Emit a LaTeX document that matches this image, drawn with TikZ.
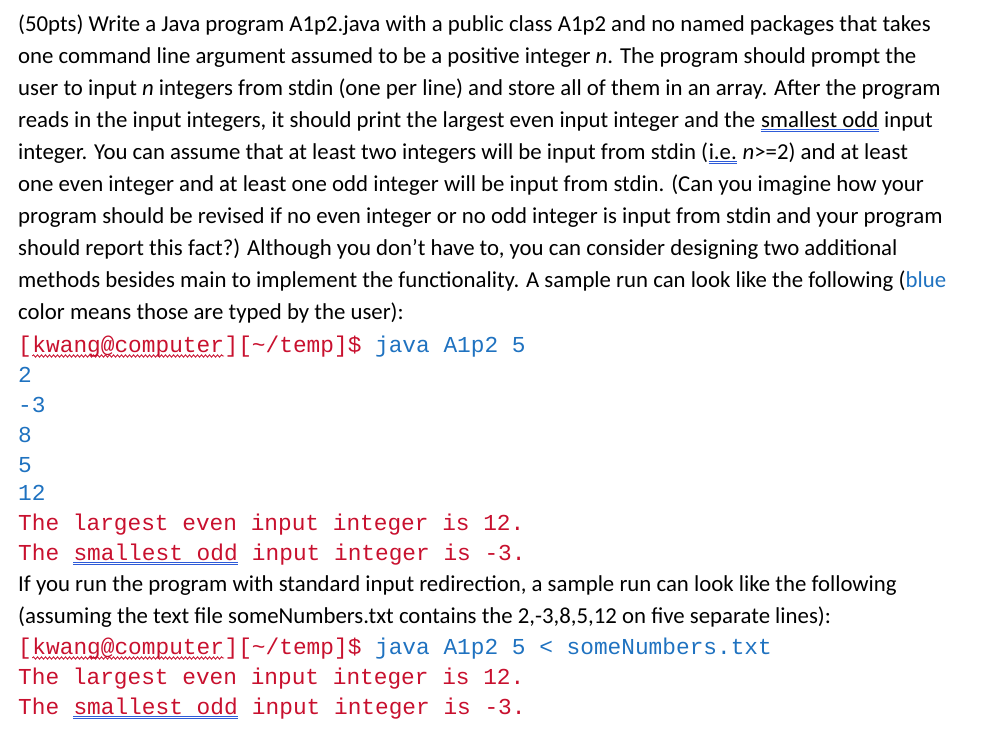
\documentclass[tikz,border=0pt]{standalone}
\usepackage{fontspec}
\usetikzlibrary{decorations.pathmorphing}
\setmainfont{Carlito}
\setmonofont{Liberation Mono}
\definecolor{cblue}{HTML}{1F72C0}
\definecolor{cred}{HTML}{C8102E}
\definecolor{ulblue}{HTML}{2E5BD8}
\newcommand\bdu[1]{\tikz[baseline=(u.base)]{\node[inner sep=0pt,anchor=base west](u){#1};
 \draw[ulblue,line width=0.8pt] ([yshift=-2.2pt]u.base west)--([yshift=-2.2pt]u.base east) ([yshift=-4.4pt]u.base west)--([yshift=-4.4pt]u.base east);}}
\newcommand\wav[1]{\tikz[baseline=(u.base)]{\node[inner sep=0pt,anchor=base west](u){#1};
 \draw[cred,line width=0.8pt,decorate,decoration={snake,amplitude=1.2pt,segment length=4pt}] ([yshift=-4pt]u.base west)--([yshift=-4pt]u.base east);}}
\tikzset{tl/.style={anchor=base west,inner sep=0pt,font=\fontsize{22.8}{24}\selectfont},
ml/.style={anchor=base west,inner sep=0pt,font=\fontsize{22.8}{24}\ttfamily}}
\begin{document}
\begin{tikzpicture}[x=1pt,y=-1pt]
\useasboundingbox (0,0) rectangle (997,731);
\node[tl] (l1) at (18,31) {(50pts) Write a Java program A1p2.java with a public class A1p2 and no named packages that takes};
\node[tl] (l2) at (18,63) {one command line argument assumed to be a positive integer \textit{n}. The program should prompt the};
\node[tl] (l3) at (18,95) {user to input \textit{n} integers from stdin (one per line) and store all of them in an array. After the program};
\node[tl] (l4) at (18,127) {reads in the input integers, it should print the largest even input integer and the \bdu{smallest odd} input};
\node[tl] (l5) at (18,159) {integer. You can assume that at least two integers will be input from stdin (\bdu{i.e.} \textit{n}>=2) and at least};
\node[tl] (l6) at (18,191) {one even integer and at least one odd integer will be input from stdin. (Can you imagine how your};
\node[tl] (l7) at (18,223) {program should be revised if no even integer or no odd integer is input from stdin and your program};
\node[tl] (l8) at (18,255) {should report this fact?) Although you don’t have to, you can consider designing two additional};
\node[tl] (l9) at (18,287) {methods besides main to implement the functionality. A sample run can look like the following (\textcolor{cblue}{blue}};
\node[tl] (l10) at (18,319) {color means those are typed by the user):};
\node[ml] (m1) at (18,352) {\textcolor{cred}{[\wav{kwang@computer}][\textasciitilde/temp]\$}\ \textcolor{cblue}{java A1p2 5}};
\node[ml,text=cblue] (m2) at (18,382) {2};
\node[ml,text=cblue] (m3) at (18,412) {-3};
\node[ml,text=cblue] (m4) at (18,442) {8};
\node[ml,text=cblue] (m5) at (18,472) {5};
\node[ml,text=cblue] (m6) at (18,500) {12};
\node[ml,text=cred] (m7) at (18,530) {The largest even input integer is 12.};
\node[ml,text=cred] (m8) at (18,560) {The \bdu{smallest odd} input integer is -3.};
\node[tl] (l11) at (18,591) {If you run the program with standard input redirection, a sample run can look like the following};
\node[tl] (l12) at (18,623) {(assuming the text file someNumbers.txt contains the 2,-3,8,5,12 on five separate lines):};
\node[ml] (m9) at (18,654) {\textcolor{cred}{[\wav{kwang@computer}][\textasciitilde/temp]\$}\ \textcolor{cblue}{java A1p2 5 < someNumbers.txt}};
\node[ml,text=cred] (m10) at (18,684) {The largest even input integer is 12.};
\node[ml,text=cred] (m11) at (18,714) {The \bdu{smallest odd} input integer is -3.};
\end{tikzpicture}
\end{document}
